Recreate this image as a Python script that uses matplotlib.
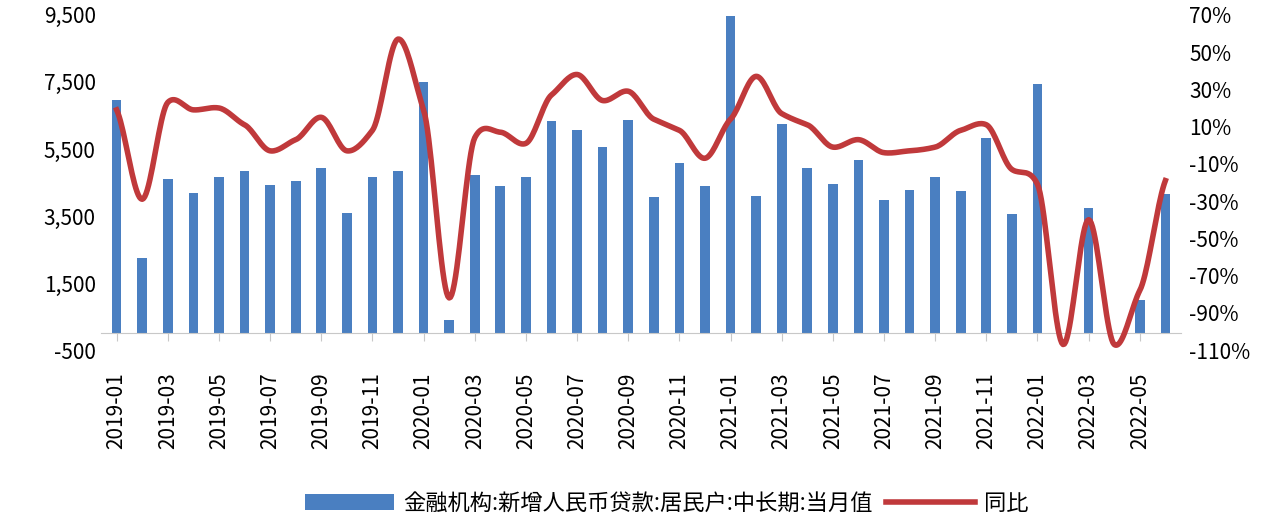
import numpy as np
import matplotlib
matplotlib.use("Agg")
import matplotlib.pyplot as plt
from matplotlib import font_manager as fm

cjk = [f.name for f in fm.fontManager.ttflist if "CJK" in f.name]
pref = [n for n in ["Noto Sans CJK SC", "Noto Sans CJK JP", "Noto Sans CJK TC", "Noto Sans CJK KR"] if n in cjk]
plt.rcParams["font.family"] = "sans-serif"
plt.rcParams["font.sans-serif"] = (pref or cjk[:1]) + ["DejaVu Sans"]

months = [f"{y}-{m:02d}" for y in range(2019, 2023) for m in range(1, 13)][:42]
loans = [6950, 2240, 4600, 4180, 4660, 4840, 4420, 4540, 4930, 3580, 4660, 4840,
         7490, 390, 4720, 4390, 4660, 6330, 6060, 5550, 6360, 4060, 5070, 4390,
         9460, 4090, 6240, 4930, 4450, 5160, 3970, 4270, 4660, 4240, 5820, 3550,
         7430, -20, 3730, -20, 1000, 4170]
yoy = [19, -29, 23, 19, 20, 11, -3, 3, 15, -3, 8, 57,
       19, -82, 4, 7, 1, 27, 38, 24, 29, 14, 8, -7,
       14, 37, 17, 11, -1, 3, -4, -3, -1, 8, 11, -13,
       -21, -107, -40, -107, -78, -19]
left_ticks = [-500, 1500, 3500, 5500, 7500, 9500]
right_ticks = list(range(-110, 71, 20))

x = np.arange(len(months))

def smooth(xs, ys, n=20, k=0.6):
    xs = np.asarray(xs, float); ys = np.asarray(ys, float)
    m = np.zeros_like(ys)
    m[1:-1] = (ys[2:] - ys[:-2]) / 2 * k
    m[0] = (ys[1] - ys[0]) * k; m[-1] = (ys[-1] - ys[-2]) * k
    ox, oy = [], []
    t = np.linspace(0, 1, n, endpoint=False)
    h00 = 2*t**3 - 3*t**2 + 1; h10 = t**3 - 2*t**2 + t
    h01 = -2*t**3 + 3*t**2; h11 = t**3 - t**2
    for i in range(len(ys)-1):
        oy.extend(h00*ys[i] + h10*m[i] + h01*ys[i+1] + h11*m[i+1])
        ox.extend(xs[i] + t)
    ox.append(xs[-1]); oy.append(ys[-1])
    return np.array(ox), np.array(oy)

fig = plt.figure(figsize=(12.82, 5.32), dpi=100)
ax = fig.add_axes([0.079, 0.342, 0.842, 0.63])
ax.bar(x, loans, width=0.38, color="#4a7fc1", label="金融机构:新增人民币贷款:居民户:中长期:当月值", zorder=2)
ax.set_ylim(-500, 9500)
ax.set_yticks(left_ticks)
ax.set_yticklabels([f"{v:,}" for v in left_ticks], fontsize=15)
ax.set_xlim(-0.6, len(months) - 0.4)
ax.spines["bottom"].set_position(("data", 0))
for s in ["top", "right", "left"]:
    ax.spines[s].set_visible(False)
ax.spines["bottom"].set_color("#c8c8c8")
ax.tick_params(axis="y", length=0, pad=4)
ax.set_xticks(x[::2])
ax.set_xticklabels(months[::2], rotation=90, fontsize=15)
ax.tick_params(axis="x", length=6, color="#c8c8c8", pad=22)

ax2 = ax.twinx()
sx, sy = smooth(x, yoy)
ax2.plot(sx, sy, color="#c0393b", lw=4, label="同比", zorder=3)
ax2.set_ylim(-110, 70)
ax2.set_yticks(right_ticks)
ax2.set_yticklabels([f"{v}%" for v in right_ticks], fontsize=15)
ax2.tick_params(axis="y", length=0, pad=6)
for s in ax2.spines.values():
    s.set_visible(False)

h1, l1 = ax.get_legend_handles_labels()
h2, l2 = ax2.get_legend_handles_labels()
fig.legend(h1 + h2, l1 + l2, loc="lower center", bbox_to_anchor=(0.52, -0.005), ncol=2,
           frameon=False, fontsize=16, handlelength=4, columnspacing=0.6, handletextpad=0.4)

fig.savefig("out.png", dpi=100)
